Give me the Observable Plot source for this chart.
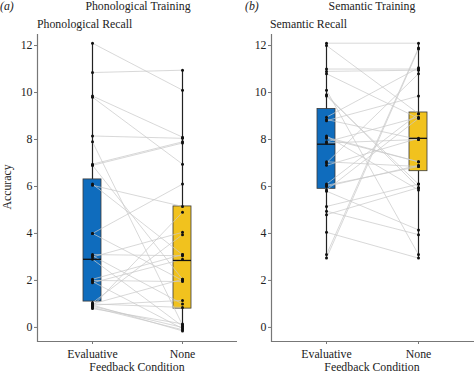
<!DOCTYPE html>
<html>
<head>
<meta charset="utf-8">
<script src="https://cdn.jsdelivr.net/npm/d3@7"></script>
<script src="https://cdn.jsdelivr.net/npm/@observablehq/plot@0.6"></script>
<style>
  body { margin: 0; background: white; }
  #wrap { position: relative; width: 474px; height: 374px; overflow: hidden; font-family: "Liberation Serif", "Times New Roman", serif; }
  .panel { position: absolute; top: 0; }
  #overlay { position: absolute; left: 0; top: 0; pointer-events: none; }
  #overlay text { font-family: "Liberation Serif", serif; font-size: 11.8px; fill: #222; }
</style>
</head>
<body>
<div id="wrap">
  <div id="pa" class="panel" style="left:0"></div>
  <div id="pb" class="panel" style="left:237px"></div>
  <svg id="overlay" width="474" height="374">
    <text x="0" y="10" font-style="italic">(a)</text>
    <text x="138" y="10" text-anchor="middle">Phonological Training</text>
    <text x="37" y="28">Phonological Recall</text>
    <text x="245" y="10" font-style="italic">(b)</text>
    <text x="372" y="10" text-anchor="middle">Semantic Training</text>
    <text x="270" y="28">Semantic Recall</text>
    <text x="137" y="371" text-anchor="middle">Feedback Condition</text>
    <text x="372" y="371" text-anchor="middle">Feedback Condition</text>
    <text transform="translate(11,187) rotate(-90)" text-anchor="middle">Accuracy</text>
  </svg>
</div>
<script>
// Categories and tick labels
const conditions = ["Evaluative", "None"];
const yTicks = [0, 2, 4, 6, 8, 10, 12];
const boxColors = ["#0f6cbd", "#f1c21e"];

// Panel (a): Phonological Training — paired scores per participant
const phonEval = [12.1, 10.85, 9.85, 9.8, 8.15, 7.9, 6.95, 6.9, 6.1, 6.05, 4.0, 4.0, 3.1, 3.05, 3.0, 2.9, 2.05, 2.0, 1.95, 1.9, 1.05, 1.0, 0.95, 0.9, 0.85, 0.8, 1.0, 0.95, 0.9, 6.9];
const phonNone = [10.1, 10.95, 8.1, 6.95, 8.05, 0.1, 7.9, 7.85, 3.1, 5.15, 6.1, 2.0, 3.05, 1.0, 4.05, 0.05, 3.1, 1.95, -0.05, 2.9, 3.95, 2.05, 1.15, 0.0, -0.1, 0.15, 0.85, -0.15, 4.9, 2.05];
// Box statistics: [Evaluative, None]
const phonQ1 = [1.1, 0.8];
const phonMedian = [2.9, 2.85];
const phonQ3 = [6.3, 5.15];

// Panel (b): Semantic Training — paired scores per participant
const semEval = [12.1, 12.0, 11.0, 10.9, 10.8, 10.1, 9.9, 9.85, 8.95, 8.85, 8.8, 8.15, 8.05, 7.9, 7.05, 7.0, 6.9, 6.1, 6.0, 5.85, 5.8, 5.15, 4.95, 4.8, 4.05, 3.1, 2.95, 7.85, 8.1, 6.05];
const semNone = [12.1, 9.1, 11.0, 10.95, 8.9, 3.1, 5.95, 6.1, 11.05, 8.0, 9.85, 5.85, 7.05, 8.95, 6.85, 10.8, 8.05, 9.1, 6.9, 8.9, 4.15, 6.1, 3.95, 5.95, 2.95, 11.9, 11.85, 8.0, 7.05, 6.85];
const semQ1 = [5.9, 6.65];
const semMedian = [7.8, 8.05];
const semQ3 = [9.3, 9.15];

const font = {fontFamily: "Liberation Serif", fontSize: 11.8, fill: "#222"};

function panel(evalV, noneV, q1, med, q3, marginLeft) {
  const pairs = evalV.map((e, i) => ({e, n: noneV[i]}));
  const points = [
    ...evalV.map(v => ({cond: conditions[0], v})),
    ...noneV.map(v => ({cond: conditions[1], v}))
  ];
  const groups = [evalV, noneV];
  const stats = conditions.map((c, i) => ({
    cond: c, lo: d3.min(groups[i]), hi: d3.max(groups[i]),
    q1: q1[i], med: med[i], q3: q3[i]
  }));
  return Plot.plot({
    width: 237,
    height: 374,
    marginTop: 34,
    marginBottom: 33,
    marginLeft,
    marginRight: 0,
    style: "font-family: 'Liberation Serif', serif; font-size: 11.8px; color: #222; background: transparent; overflow: visible;",
    x: {type: "band", domain: conditions, paddingInner: 0.8, paddingOuter: 0.5, label: null},
    y: {domain: [-0.6, 12.47], label: null},
    color: {domain: conditions, range: boxColors},
    marks: [
      Plot.ruleX(stats, {x: "cond", y1: "lo", y2: "hi", stroke: "#222", strokeWidth: 1.2}),
      Plot.barY(stats, {x: "cond", y1: "q1", y2: "q3", fill: "cond", stroke: "#3a3a3a", strokeWidth: 0.8}),
      Plot.link(pairs, {x1: () => conditions[0], y1: "e", x2: () => conditions[1], y2: "n", stroke: "#c9c9c9", strokeWidth: 0.8, strokeOpacity: 0.9}),
      Plot.tickY(stats, {x: "cond", y: "med", stroke: "#111", strokeWidth: 1.3}),
      Plot.dot(points, {x: "cond", y: "v", r: 1.5, fill: "#111"}),
      Plot.axisX({tickSize: 3, tickPadding: 5, label: null, stroke: "#777", ...font}),
      Plot.axisY({ticks: yTicks, tickSize: 3, tickPadding: 2, label: null, stroke: "#777", ...font}),
      Plot.ruleY([-0.6], {stroke: "#777", strokeWidth: 1.2}),
      Plot.frame({anchor: "left", stroke: "#777", strokeWidth: 1.2})
    ]
  });
}

document.getElementById("pa").append(panel(phonEval, phonNone, phonQ1, phonMedian, phonQ3, 37));
document.getElementById("pb").append(panel(semEval, semNone, semQ1, semMedian, semQ3, 34));
</script>
</body>
</html>
